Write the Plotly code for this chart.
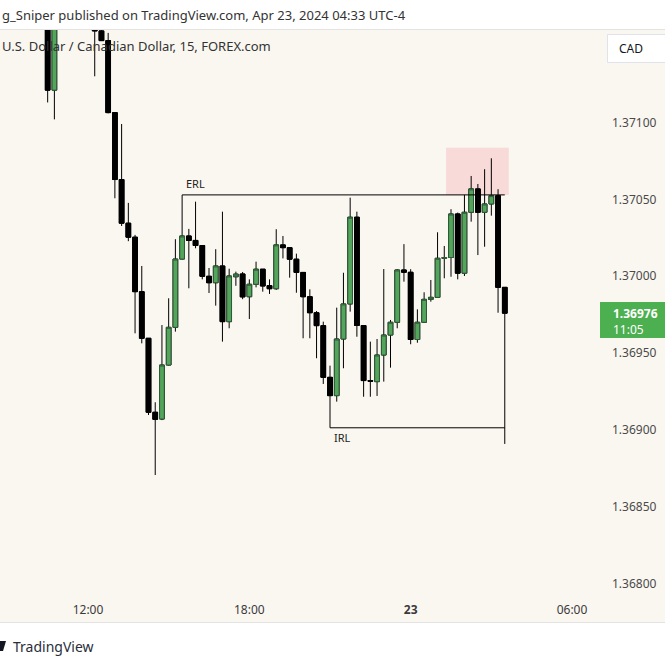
import plotly.graph_objects as go
import pandas as pd

# ---------------- data (USD/CAD, 15 min candles, starting 2024-04-22 10:30) ----------------
START = "2024-04-22 10:30"
opens = [1.37185, 1.37121, 1.37175, 1.37190, 1.37178, 1.37185, 1.37174, 1.37180, 1.371595, 1.371532,
         1.371064, 1.370629, 1.370345, 1.370254, 1.369900, 1.369597, 1.369116, 1.369072, 1.369423, 1.369668,
         1.370112, 1.370262, 1.370233, 1.370200, 1.370000, 1.369958, 1.370067, 1.369705, 1.369997, 1.370015,
         1.369867, 1.369948, 1.370046, 1.369939, 1.369919, 1.370204, 1.370186, 1.370111, 1.370025, 1.369867,
         1.369763, 1.369679, 1.369343, 1.369224, 1.369592, 1.369820, 1.370384, 1.369680, 1.369322, 1.369315,
         1.369488, 1.369618, 1.369701, 1.370041, 1.370026, 1.369589, 1.369701, 1.369850, 1.369863, 1.370117,
         1.370122, 1.370405, 1.370020, 1.370416, 1.370568, 1.370416, 1.370470, 1.370524, 1.369928]
highs = [1.37195, 1.37185, 1.37198, 1.37205, 1.37192, 1.37196, 1.37188, 1.37190, 1.37163, 1.371582,
         1.371064, 1.370990, 1.370477, 1.370269, 1.370067, 1.369597, 1.369181, 1.369683, 1.369857, 1.370241,
         1.370529, 1.370308, 1.370485, 1.370200, 1.370054, 1.370176, 1.370420, 1.370049, 1.370030, 1.370028,
         1.369980, 1.370095, 1.370046, 1.369980, 1.370306, 1.370262, 1.370190, 1.370147, 1.370025, 1.369915,
         1.369774, 1.369705, 1.369419, 1.369796, 1.370023, 1.370511, 1.370420, 1.369680, 1.369575, 1.369592,
         1.370047, 1.369716, 1.370046, 1.370209, 1.370046, 1.369785, 1.369896, 1.369976, 1.370286, 1.370197,
         1.370436, 1.370414, 1.370529, 1.370652, 1.370600, 1.370696, 1.370767, 1.370566, 1.369928]
lows = [1.37113, 1.37102, 1.37166, 1.37172, 1.37168, 1.37170, 1.37165, 1.37130, 1.37153, 1.371059,
        1.370507, 1.370327, 1.370228, 1.369629, 1.369564, 1.369098, 1.368708, 1.369065, 1.369420, 1.369640,
        1.370110, 1.369922, 1.370182, 1.369980, 1.369891, 1.369809, 1.369575, 1.369662, 1.369938, 1.369851,
        1.369722, 1.369928, 1.369900, 1.369885, 1.369911, 1.370116, 1.369991, 1.369893, 1.369597, 1.369597,
        1.369467, 1.369300, 1.369015, 1.369185, 1.369402, 1.369770, 1.369607, 1.369217, 1.369217, 1.369222,
        1.369315, 1.369406, 1.369662, 1.369965, 1.369558, 1.369568, 1.369698, 1.369835, 1.369860, 1.369987,
        1.369997, 1.369980, 1.370002, 1.370355, 1.370138, 1.370192, 1.370394, 1.369763, 1.368910]
closes = [1.37121, 1.37175, 1.37190, 1.37178, 1.37185, 1.37174, 1.37180, 1.371595, 1.371532, 1.371064,
          1.370629, 1.370345, 1.370254, 1.369900, 1.369597, 1.369116, 1.369070, 1.369423, 1.369668, 1.370112,
          1.370262, 1.370233, 1.370200, 1.370000, 1.369958, 1.370067, 1.369705, 1.370002, 1.370014, 1.369866,
          1.369948, 1.370046, 1.369937, 1.369919, 1.370204, 1.370186, 1.370111, 1.370025, 1.369867, 1.369763,
          1.369679, 1.369343, 1.369224, 1.369592, 1.369820, 1.370384, 1.369680, 1.369322, 1.369318, 1.369488,
          1.369618, 1.369701, 1.370041, 1.370026, 1.369589, 1.369701, 1.369850, 1.369863, 1.370117, 1.370122,
          1.370405, 1.370020, 1.370416, 1.370568, 1.370416, 1.370470, 1.370524, 1.369928, 1.369760]

times = pd.date_range(START, periods=len(opens), freq="15min")

ERL_LEVEL = 1.370529       # external range liquidity (swing high)
IRL_LEVEL = 1.369015       # internal range liquidity (swing low)
ERL_FROM, IRL_FROM = 20, 42   # candle indices where the levels are anchored
ZONE_TOP = 1.370836
ZONE_START, ZONE_END = "2024-04-23 01:19", "2024-04-23 03:39"
LAST_PRICE = "1.36976"
COUNTDOWN = "11:05"

x_tickvals = ["2024-04-22 12:00", "2024-04-22 18:00", "2024-04-23 00:00", "2024-04-23 06:00"]
x_ticktext = ["12:00", "18:00", "<b>23</b>", "06:00"]
y_tickvals = [1.368, 1.3685, 1.369, 1.3695, 1.370, 1.3705, 1.371]

X_RANGE = ["2024-04-22 08:43:38", "2024-04-23 07:02:28"]
Y_RANGE = [1.367928, 1.371601]

# ---------------- styling ----------------
W = H = 665
ML, MR, MT, MB = 0, 65, 30, 70
PW, PH = W - ML - MR, H - MT - MB
BG = "#faf7f1"
GREEN_FILL = "#54a55c"
GREEN_EDGE = "#2f5c38"
FONT = "Noto Sans"
TXT = "#3a3a3a"

def px(xp):      # pixel -> paper x
    return (xp - ML) / PW

def py(yp):      # pixel -> paper y
    return (H - MB - yp) / PH

body_hi = [max(o, c) for o, c in zip(opens, closes)]
body_lo = [min(o, c) for o, c in zip(opens, closes)]

fig = go.Figure()
# wicks (all black)
fig.add_trace(go.Candlestick(
    x=times, open=opens, high=highs, low=lows, close=closes,
    increasing=dict(line=dict(color="black", width=1), fillcolor="black"),
    decreasing=dict(line=dict(color="black", width=1), fillcolor="black"),
    hoverinfo="skip", showlegend=False))
# bodies
fig.add_trace(go.Candlestick(
    x=times, open=opens, high=body_hi, low=body_lo, close=closes,
    increasing=dict(line=dict(color=GREEN_EDGE, width=1), fillcolor=GREEN_FILL),
    decreasing=dict(line=dict(color="black", width=1), fillcolor="black"),
    hoverinfo="skip", showlegend=False))

shapes = [
    # header & footer white bars
    dict(type="rect", xref="paper", yref="paper", x0=px(-5), x1=px(W + 5), y0=py(29), y1=py(-5),
         fillcolor="white", line_width=0, layer="below"),
    dict(type="line", xref="paper", yref="paper", x0=px(0), x1=px(W), y0=py(29.5), y1=py(29.5),
         line=dict(color="#e3e3e3", width=1)),
    dict(type="rect", xref="paper", yref="paper", x0=px(-5), x1=px(W + 5), y0=py(H + 5), y1=py(622.5),
         fillcolor="white", line_width=0, layer="below"),
    dict(type="line", xref="paper", yref="paper", x0=px(0), x1=px(W), y0=py(622.5), y1=py(622.5),
         line=dict(color="#e3e3e3", width=1)),
    # supply zone
    dict(type="rect", xref="x", yref="y", x0=ZONE_START, x1=ZONE_END, y0=ERL_LEVEL, y1=ZONE_TOP,
         fillcolor="rgba(242,120,130,0.22)", line_width=0, layer="below"),
    # ERL / IRL levels
    dict(type="line", xref="x", yref="y", x0=times[ERL_FROM], x1=times[-1], y0=ERL_LEVEL, y1=ERL_LEVEL,
         line=dict(color="black", width=1)),
    dict(type="line", xref="x", yref="y", x0=times[IRL_FROM], x1=times[-1], y0=IRL_LEVEL, y1=IRL_LEVEL,
         line=dict(color="black", width=1)),
    # last price label
    dict(type="rect", xref="paper", yref="paper", x0=px(600), x1=px(W + 2), y0=py(338), y1=py(302),
         fillcolor="#4caf50", line_width=0),
    # currency button
    dict(type="rect", xref="paper", yref="paper", x0=px(607.5), x1=px(W + 6), y0=py(62.5), y1=py(34.5),
         fillcolor="white", line=dict(color="#e0e3eb", width=1)),
    # TradingView logo fragment
    dict(type="path", xref="paper", yref="paper",
         path=f"M {px(-2)} {py(641)} L {px(6)} {py(641)} L {px(3)} {py(651)} L {px(-2)} {py(651)} Z",
         fillcolor="#131722", line_width=0),
]

annotations = [
    dict(text="g_Sniper published on TradingView.com, Apr 23, 2024 04:33 UTC-4", xref="paper", yref="paper",
         x=px(0), y=py(15), xanchor="left", yanchor="middle", showarrow=False,
         font=dict(family=FONT, size=13, color="#333333")),
    dict(text="U.S. Dollar / Canadian Dollar, 15, FOREX.com", xref="paper", yref="paper",
         x=px(0), y=py(46), xanchor="left", yanchor="middle", showarrow=False,
         font=dict(family=FONT, size=13, color="#333333")),
    dict(text="ERL", xref="x", yref="y", x=times[ERL_FROM], y=ERL_LEVEL, xanchor="left", yanchor="bottom",
         xshift=2, yshift=2, showarrow=False, font=dict(family=FONT, size=11, color="#222222")),
    dict(text="IRL", xref="x", yref="y", x=times[IRL_FROM], y=IRL_LEVEL, xanchor="left", yanchor="top",
         xshift=2, yshift=0, showarrow=False, font=dict(family=FONT, size=11, color="#222222")),
    dict(text=f"<b>{LAST_PRICE}</b>", xref="paper", yref="paper", x=px(611), y=py(313),
         xanchor="left", yanchor="middle", showarrow=False, font=dict(family=FONT, size=12, color="white")),
    dict(text=COUNTDOWN, xref="paper", yref="paper", x=px(611), y=py(329),
         xanchor="left", yanchor="middle", showarrow=False, font=dict(family=FONT, size=12, color="white")),
    dict(text="CAD", xref="paper", yref="paper", x=px(617), y=py(48.5),
         xanchor="left", yanchor="middle", showarrow=False, font=dict(family=FONT, size=12, color="#131722")),
    dict(text="TradingView", xref="paper", yref="paper", x=px(11), y=py(646),
         xanchor="left", yanchor="middle", showarrow=False, font=dict(family=FONT, size=14, color="#2a2e39")),
]

fig.update_layout(
    width=W, height=H, margin=dict(l=ML, r=MR, t=MT, b=MB),
    paper_bgcolor=BG, plot_bgcolor=BG,
    boxgap=0.3, boxgroupgap=0.0,
    shapes=shapes, annotations=annotations,
    font=dict(family=FONT, size=12, color=TXT),
    xaxis=dict(type="date", range=X_RANGE, rangeslider=dict(visible=False), showgrid=False,
               zeroline=False, showline=False, ticks="", tickvals=x_tickvals, ticktext=x_ticktext,
               ticklabelstandoff=6,
               tickfont=dict(family=FONT, size=12, color="#3a3a3a")),
    yaxis=dict(side="right", range=Y_RANGE, showgrid=False, zeroline=False, showline=False, ticks="",
               tickvals=y_tickvals, tickformat=".5f", ticklabelstandoff=11,
               tickfont=dict(family=FONT, size=12, color="#4a4a4a")),
    showlegend=False,
)

fig.write_html("out.html", config={"displayModeBar": False},
               post_script="document.body.style.margin='0';document.body.style.overflow='hidden';")
